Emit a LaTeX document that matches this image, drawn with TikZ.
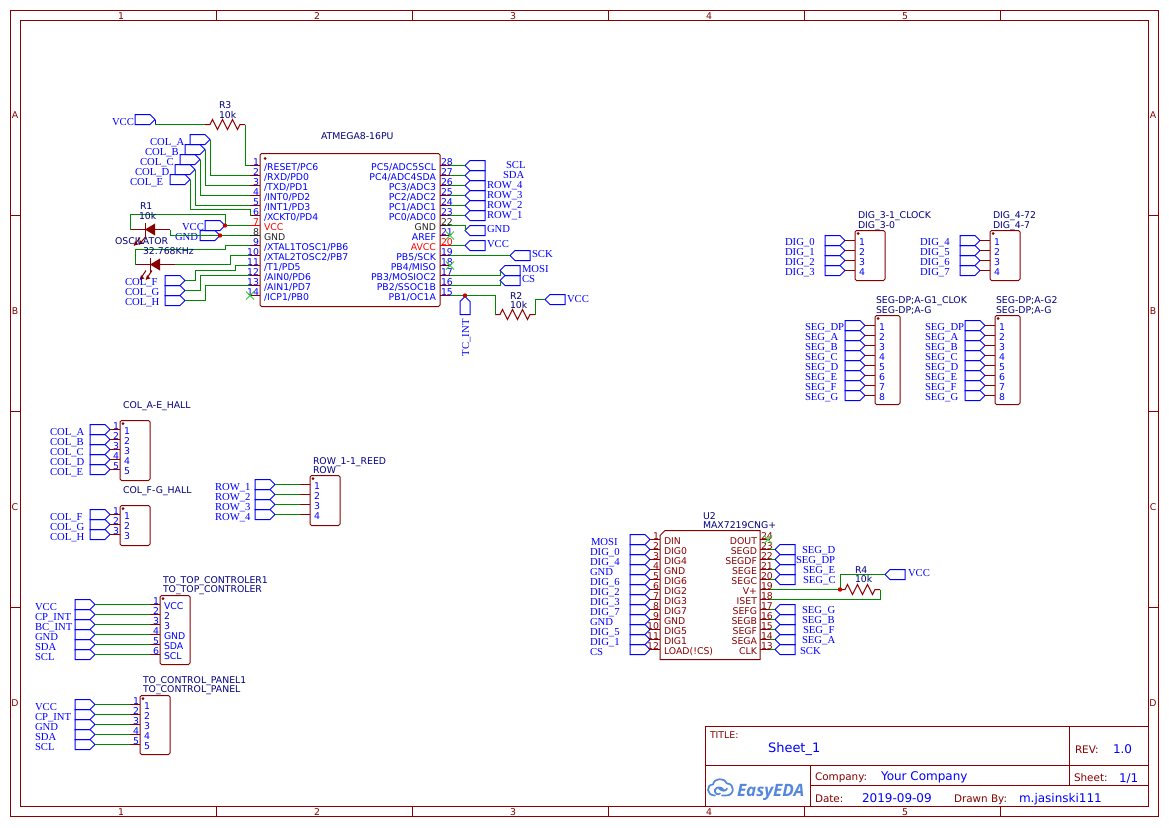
\documentclass[tikz,border=0pt]{standalone}
\usepackage{fontspec}
\setmainfont{DejaVu Sans}
\newfontfamily\labelfont{Liberation Serif}
\newfontfamily\logofont{Open Sans}
\definecolor{dred}{HTML}{880000}
\definecolor{nblue}{HTML}{0000FF}
\definecolor{tblue}{HTML}{000080}
\definecolor{wgreen}{HTML}{008800}
\definecolor{xgreen}{HTML}{33CC33}
\definecolor{jred}{HTML}{CC0000}
\definecolor{logoc}{HTML}{5588DD}
\definecolor{pinred}{HTML}{FF0000}
\definecolor{darkpin}{HTML}{222222}
\newcount\tcnt
\tikzset{
  wire/.style={draw=wgreen,line width=1pt},
  pinline/.style={line width=1pt},
  flagbox/.style={draw=nblue,line width=1pt,line join=miter},
  body/.style={draw=dred,line width=1pt,rounded corners=1.5pt},
  frameline/.style={draw=dred,line width=1pt},
  tx/.style={inner sep=0pt,outer sep=0pt},
  s9/.style={tx,font=\fontsize{9.33pt}{10pt}\selectfont},
  s10/.style={tx,font=\fontsize{10.4pt}{11pt}\selectfont},
  s12/.style={tx,font=\fontsize{12pt}{13pt}\selectfont},
  lb/.style={tx,text=nblue,font=\labelfont\fontsize{10.67pt}{11pt}\selectfont},
}
% text: style, anchor, x, y(baseline), text
\newcommand\wrt[5]{\global\advance\tcnt by 1 \node[#1,anchor=#2] (t\the\tcnt) at (#3,#4+0.8) {#5};}
% serif net label at x, visual centre y
\newcommand\netl[3]{\wrt{lb}{base west}{#1}{#2+3.2}{#3}}
% sans title
\newcommand\ttl[3]{\wrt{s9,text=tblue}{base west}{#1}{#2+3.4}{#3}}
\newcommand\flagR[3]{\coordinate (#1) at (#2,#3);
  \draw[flagbox,shift={(#2,#3)}] (-20,-5)--(-5,-5)--(0,0)--(-5,5)--(-20,5)--cycle;}
\newcommand\flagL[3]{\coordinate (#1) at (#2,#3);
  \draw[flagbox,shift={(#2,#3)}] (20,-5)--(5,-5)--(0,0)--(5,5)--(20,5)--cycle;}
% pins: name, body x, y, number, number colour, line colour
\newcommand\pinl[6]{\coordinate (#1) at (#2-10,#3);
  \draw[pinline,draw=#6] (#2-10,#3)--(#2,#3);
  \wrt{s9,text=#5}{base east}{#2-1}{#3-0.5}{#4}}
\newcommand\pinr[6]{\coordinate (#1) at (#2+10,#3);
  \draw[pinline,draw=#6] (#2,#3)--(#2+10,#3);
  \wrt{s9,text=#5}{base west}{#2+1}{#3-0.5}{#4}}
\newcommand\resz[3]{\coordinate (#1a) at (#2,#3);\coordinate (#1b) at (#2+40,#3);
  \draw[draw=dred,line width=1pt,shift={(#2,#3)}] (0,0)--(5,0)--(7.5,-5)--(12.5,5)--(17.5,-5)--(22.5,5)--(27.5,-5)--(32.5,5)--(35,0)--(40,0);}
\newcommand\crs[2]{\draw[draw=xgreen,line width=0.8pt,shift={(#1,#2)}] (-4,-4)--(4,4) (-4,4)--(4,-4);}
\newcommand\jdot[2]{\fill[jred] (#1,#2) circle (2.2);}
\newcommand\hbody[4]{\draw[body] (#1,#2) rectangle (#3,#4);\fill[dred] (#1+3,#2+3) circle (1.5);}
\newcommand\diodez[4]{% x1, tip x, x2, y
  \draw[draw=dred,line width=1pt] (#1,#4)--(#3,#4);
  \draw[draw=dred,line width=1pt] (#2,#4-7)--(#2,#4+7);
  \fill[dred] (#2,#4)--(#2+10,#4-6)--(#2+10,#4+6)--cycle;}
\newcommand\ledarrow[4]{\draw[draw=dred,line width=1pt] (#1,#2)--(#3,#4);
  \fill[dred] (#3,#4)--(#3+4.5,#4-1)--(#3+1,#4-4.5)--cycle;}
\begin{document}
\begin{tikzpicture}[x=1pt,y=-1pt]
\useasboundingbox (0,0) rectangle (1169,827);
\fill[white] (0,0) rectangle (1169,827);
\begin{scope}[yshift=0.5pt]
% ---------- frame
\draw[frameline] (10,11) rectangle (1158,817);
\draw[frameline] (20,21) rectangle (1148,807);
\foreach \x in {216,412,608,804,1000}{
  \draw[frameline] (\x,11)--(\x,21);
  \draw[frameline] (\x,807)--(\x,817);}
\foreach \y in {216,412,608}{
  \draw[frameline] (10,\y)--(20,\y);
  \draw[frameline] (1148,\y)--(1158,\y);}
\foreach \n/\x in {1/121,2/317,3/513,4/709,5/905}{
  \node[s9,text=dred,anchor=base] (ntop\n) at (\x,20.3) {\n};
  \node[s9,text=dred,anchor=base] (nbot\n) at (\x,816.3) {\n};}
\foreach \n/\y in {A/116,B/312,C/508,D/704}{
  \node[s9,text=dred,anchor=center] (nl\n) at (15,\y) {\n};
  \node[s9,text=dred,anchor=center] (nr\n) at (1153,\y) {\n};}
% ---------- title block
\draw[frameline] (705,727) rectangle (1148,807);
\draw[frameline] (705,766)--(1148,766);
\draw[frameline] (810,786)--(1148,786);
\draw[frameline] (810,766)--(810,807);
\draw[frameline] (1069,727)--(1069,786);
\wrt{s9,text=dred}{base west}{710}{738.5}{TITLE:}
\wrt{tx,text=nblue,font=\fontsize{13pt}{14pt}\selectfont}{base west}{768}{752}{Sheet\_1}
\wrt{s10,text=dred}{base west}{1075}{753}{REV:}
\wrt{s12,text=nblue}{base west}{1113}{753}{1.0}
\wrt{s10,text=dred}{base west}{815}{780}{Company:}
\wrt{s12,text=nblue}{base west}{881}{780}{Your Company}
\wrt{s10,text=dred}{base west}{1074}{781.5}{Sheet:}
\wrt{s12,text=nblue}{base west}{1119}{782}{1/1}
\wrt{s10,text=dred}{base west}{815}{802}{Date:}
\wrt{s12,text=nblue}{base west}{862}{802}{2019-09-09}
\wrt{s10,text=dred}{base west}{954}{802}{Drawn By:}
\wrt{s12,text=nblue}{base west}{1019}{802}{m.jasinski111}
% logo
\draw[draw=logoc,line width=1.7pt,line cap=round,line join=round]
  (715,796) .. controls (706,796) and (706,785) .. (713,785)
  .. controls (714,778) and (725,778) .. (727,784)
  .. controls (735,784) and (735,796) .. (726,796) -- (722,796)
  (724,791) .. controls (722,787) and (717,787) .. (715,790)
  .. controls (714,794) and (718,796) .. (720,794) (719,789) .. controls (722,792) and (726,792) .. (727,789);
\wrt{tx,text=logoc,font=\logofont\bfseries\itshape\fontsize{17pt}{18pt}\selectfont}{base west}{737}{795.7}{EasyEDA}
% ---------- ATMEGA
\ttl{321}{136}{ATMEGA8-16PU}
\draw[body] (260,154) rectangle (440,307);
\fill[dred] (265,159) circle (1.5);
\pinl{p1}{260}{166}{1}{nblue}{dred}
\pinl{p2}{260}{176}{2}{nblue}{dred}
\pinl{p3}{260}{186}{3}{nblue}{dred}
\pinl{p4}{260}{196}{4}{nblue}{dred}
\pinl{p5}{260}{206}{5}{nblue}{dred}
\pinl{p6}{260}{216}{6}{nblue}{dred}
\pinl{p7}{260}{226}{7}{pinred}{pinred}
\pinl{p8}{260}{236}{8}{darkpin}{darkpin}
\pinl{p9}{260}{246}{9}{nblue}{dred}
\pinl{p10}{260}{256}{10}{nblue}{dred}
\pinl{p11}{260}{266}{11}{nblue}{dred}
\pinl{p12}{260}{276}{12}{nblue}{dred}
\pinl{p13}{260}{286}{13}{nblue}{dred}
\pinl{p14}{260}{296}{14}{nblue}{dred}
\foreach \y/\t in {170/{/RESET/PC6},180/{/RXD/PD0},190/{/TXD/PD1},200/{/INT0/PD2},210/{/INT1/PD3},220/{/XCKT0/PD4},250/{/XTAL1TOSC1/PB6},260/{/XTAL2TOSC2/PB7},270/{/T1/PD5},280/{/AIN0/PD6},290/{/AIN1/PD7},300/{/ICP1/PB0}}{
  \wrt{s9,text=nblue}{base west}{264}{\y}{\t}}
\wrt{s9,text=pinred}{base west}{264}{230}{VCC}
\wrt{s9,text=darkpin}{base west}{264}{240}{GND}
\pinr{q28}{440}{166}{28}{nblue}{dred}
\pinr{q27}{440}{176}{27}{nblue}{dred}
\pinr{q26}{440}{186}{26}{nblue}{dred}
\pinr{q25}{440}{196}{25}{nblue}{dred}
\pinr{q24}{440}{206}{24}{nblue}{dred}
\pinr{q23}{440}{216}{23}{nblue}{dred}
\pinr{q22}{440}{226}{22}{darkpin}{darkpin}
\pinr{q21}{440}{236}{21}{nblue}{dred}
\pinr{q20}{440}{246}{20}{pinred}{pinred}
\pinr{q19}{440}{256}{19}{nblue}{dred}
\pinr{q18}{440}{266}{18}{nblue}{dred}
\pinr{q17}{440}{276}{17}{nblue}{dred}
\pinr{q16}{440}{286}{16}{nblue}{dred}
\pinr{q15}{440}{296}{15}{nblue}{dred}
\wrt{s9,text=nblue}{base east}{436}{170}{PC5/ADC5SCL}
\wrt{s9,text=nblue}{base east}{436}{180}{PC4/ADC4SDA}
\wrt{s9,text=nblue}{base east}{436}{190}{PC3/ADC3}
\wrt{s9,text=nblue}{base east}{436}{200}{PC2/ADC2}
\wrt{s9,text=nblue}{base east}{436}{210}{PC1/ADC1}
\wrt{s9,text=nblue}{base east}{436}{220}{PC0/ADC0}
\wrt{s9,text=darkpin}{base east}{436}{230}{GND}
\wrt{s9,text=nblue}{base east}{436}{240}{AREF}
\wrt{s9,text=pinred}{base east}{436}{250}{AVCC}
\wrt{s9,text=nblue}{base east}{436}{260}{PB5/SCK}
\wrt{s9,text=nblue}{base east}{436}{270}{PB4/MISO}
\wrt{s9,text=nblue}{base east}{436}{280}{PB3/MOSIOC2}
\wrt{s9,text=nblue}{base east}{436}{290}{PB2/SSOC1B}
\wrt{s9,text=nblue}{base east}{436}{300}{PB1/OC1A}
\crs{250}{296}\crs{450}{236}\crs{450}{266}
% top-left nets
\flagR{fvcc0}{155}{120}\netl{112}{122}{VCC}
\coordinate (vccw) at (155,125);
\draw[flagbox] (fvcc0)--(vccw);
\resz{r3}{205}{125}
\ttl{219}{105}{R3}\ttl{219}{115}{10k}
\draw[wire] (vccw)--(r3a);
\draw[wire] (r3b) |- (p1);
\flagR{fa}{210}{140}\netl{150}{142}{COL\_A}
\flagR{fb}{205}{150}\netl{145}{152}{COL\_B}
\flagR{fc}{200}{160}\netl{140}{162}{COL\_C}
\flagR{fd}{195}{170}\netl{135}{172}{COL\_D}
\flagR{fe}{190}{180}\netl{130}{182}{COL\_E}
\draw[wire] (fa) |- (p2);
\draw[wire] (fb) |- (p3);
\draw[wire] (fc) |- (p4);
\draw[wire] (fd) |- (p5);
\coordinate (j6) at (250,210);
\draw[wire] (fe) |- (j6) -- (p6);
% VCC, GND
\flagR{fvcc1}{225}{226}\netl{182}{227}{VCC}
\flagR{fgnd1}{220}{236}\netl{175}{237}{GND}
\draw[wire] (fvcc1)--(p7);
\draw[wire] (fgnd1)--(p8);
% diodes
\diodez{130}{145}{170}{230}
\ledarrow{146}{237}{139}{245}
\ledarrow{140}{238}{134}{246}
\diodez{135}{150}{175}{265}
\ledarrow{152}{271}{146}{280}
\ledarrow{146}{271}{140}{280}
\coordinate (d1a) at (130,230);\coordinate (d1b) at (170,230);
\coordinate (d2a) at (135,265);\coordinate (d2b) at (175,265);
\coordinate (jtop) at (130,215);
\draw[wire] (d1a)--(jtop)-|(fvcc1);
\draw[wire] (d1b)|-(p8);
\coordinate (j9) at (225,250);
\draw[wire] (d2a)|-(j9)|-(p9);
\coordinate (j10) at (230,265);
\draw[wire] (d2b)--(j10)|-(p10);
\jdot{225}{226}\jdot{220}{236}
\ttl{140}{206}{R1}\ttl{139}{216}{10k}
\ttl{115}{241}{OSCILATOR}\ttl{143}{251}{32.768KHz}
\flagR{ff}{185}{281}\netl{125}{282}{COL\_F}
\flagR{fg}{185}{291}\netl{125}{292}{COL\_G}
\flagR{fh}{185}{301}\netl{125}{302}{COL\_H}
\coordinate (j11a) at (235,271);\coordinate (j11b) at (195,281);
\draw[wire] (p11)-|(j11a)-|(j11b)--(ff);
\coordinate (j12) at (200,291);
\draw[wire] (p12)-|(j12)--(fg);
\coordinate (j13) at (205,301);
\draw[wire] (p13)-|(j13)--(fh);
% right nets
\flagL{g28}{465}{166}\netl{506}{165}{SCL}
\flagL{g27}{465}{176}\netl{503}{175}{SDA}
\flagL{g26}{465}{186}\netl{487}{185}{ROW\_4}
\flagL{g25}{465}{196}\netl{487}{195}{ROW\_3}
\flagL{g24}{465}{206}\netl{487}{205}{ROW\_2}
\flagL{g23}{465}{216}\netl{487}{215}{ROW\_1}
\foreach \a/\b in {q28/g28,q27/g27,q26/g26,q25/g25,q24/g24,q23/g23}{\draw[wire] (\a)--(\b);}
\flagL{g22}{465}{231}\netl{487}{229}{GND}
\coordinate (j22) at (465,226);
\draw[wire] (q22)--(j22)--(g22);
\flagL{g20}{465}{246}\netl{487}{244}{VCC}
\draw[wire] (q20)--(g20);
\flagL{g19}{510}{256}\netl{532}{254}{SCK}
\draw[wire] (q19)--(g19);
\flagL{g17}{500}{271}\netl{522}{269}{MOSI}
\flagL{g16}{500}{281}\netl{522}{279}{CS}
\draw[wire] (q17)-|(g17);
\draw[wire] (q16)-|(g16);
\resz{r2}{495}{315}
\ttl{510}{296}{R2}\ttl{510}{305}{10k}
\draw[wire] (q15)-|(r2a);
\flagL{g15}{545}{300}\netl{567}{299}{VCC}
\draw[wire] (r2b)|-(g15);
\coordinate (ftc) at (465,297);
\draw[flagbox] (465,297)--(470,302)--(470,315)--(460,315)--(460,302)--cycle;
\jdot{465}{296}
\wrt{lb,rotate=90}{base east}{469}{319}{TC\_INT}
% ---------- headers top right
\ttl{858}{215}{DIG\_3-1\_CLOCK}\ttl{858}{225}{DIG\_3-0}
\hbody{855}{231}{885}{281}
\ttl{993}{215}{DIG\_4-72}\ttl{993}{225}{DIG\_4-7}
\hbody{990}{231}{1020}{281}
\foreach \i/\y/\a/\b in {1/241/0/4,2/251/1/5,3/261/2/6,4/271/3/7}{
  \flagR{h3\i}{845}{\y}\netl{785}{\y+1}{DIG\_\a}
  \draw[draw=dred,line width=1pt] (h3\i)--(855,\y);
  \wrt{s9,text=nblue}{base west}{859}{\y+4.3}{\i}
  \flagR{h4\i}{980}{\y}\netl{920}{\y+1}{DIG\_\b}
  \draw[draw=dred,line width=1pt] (h4\i)--(990,\y);
  \wrt{s9,text=nblue}{base west}{994}{\y+4.3}{\i}}
\ttl{876}{300}{SEG-DP;A-G1\_CLOK}\ttl{876}{310}{SEG-DP;A-G}
\hbody{875}{316}{900}{405}
\ttl{996}{300}{SEG-DP;A-G2}\ttl{996}{310}{SEG-DP;A-G}
\hbody{995}{316}{1020}{405}
\foreach \i/\y/\t in {1/326/DP,2/336/A,3/346/B,4/356/C,5/366/D,6/376/E,7/386/F,8/396/G}{
  \flagR{s1\i}{865}{\y}\netl{805}{\y+1}{SEG\_\t}
  \draw[draw=dred,line width=1pt] (s1\i)--(875,\y);
  \wrt{s9,text=nblue}{base west}{879}{\y+4.3}{\i}
  \flagR{s2\i}{985}{\y}\netl{925}{\y+1}{SEG\_\t}
  \draw[draw=dred,line width=1pt] (s2\i)--(995,\y);
  \wrt{s9,text=nblue}{base west}{999}{\y+4.3}{\i}}
% ---------- COL headers
\ttl{123}{405}{COL\_A-E\_HALL}
\hbody{120}{421}{150}{481}
\foreach \i/\y/\t in {1/430/A,2/440/B,3/450/C,4/460/D,5/470/E}{
  \flagR{c\i}{110}{\y}\netl{50}{\y+2}{COL\_\t}
  \pinl{cp\i}{120}{\y}{\i}{nblue}{dred}
  \wrt{s9,text=nblue}{base west}{124}{\y+4.3}{\i}}
\ttl{123}{490}{COL\_F-G\_HALL}
\hbody{120}{506}{150}{546}
\foreach \i/\y/\t in {1/515/F,2/525/G,3/535/H}{
  \flagR{e\i}{110}{\y}\netl{50}{\y+2}{COL\_\t}
  \pinl{ep\i}{120}{\y}{\i}{nblue}{dred}
  \wrt{s9,text=nblue}{base west}{124}{\y+4.3}{\i}}
% ---------- ROW
\ttl{313}{461}{ROW\_1-1\_REED}\ttl{313}{470}{ROW}
\hbody{310}{476}{340}{526}
\foreach \i/\y in {1/485,2/495,3/505,4/515}{
  \flagR{r\i}{275}{\y}\netl{215}{\y+2}{ROW\_\i}
  \coordinate (rq\i) at (300,\y);
  \draw[wire] (r\i)--(rq\i);
  \draw[draw=dred,line width=1pt] (rq\i)--(310,\y);
  \wrt{s9,text=nblue}{base west}{314}{\y+4.3}{\i}}
% ---------- TO_TOP
\ttl{163}{580}{TO\_TOP\_CONTROLER1}\ttl{163}{589}{TO\_TOP\_CONTROLER}
\hbody{160}{596}{190}{665}
\foreach \i/\y/\t/\u in {1/605/VCC/VCC,2/615/CP\_INT/2,3/625/BC\_INT/3,4/635/GND/GND,5/645/SDA/SDA,6/655/SCL/SCL}{
  \flagR{tt\i}{95}{\y}\netl{35}{\y+2}{\t}
  \pinl{tp\i}{160}{\y}{\i}{nblue}{dred}
  \draw[wire] (tt\i)--(tp\i);
  \wrt{s9,text=nblue}{base west}{164}{\y+4.3}{\u}}
% ---------- TO_CONTROL
\ttl{143}{680}{TO\_CONTROL\_PANEL1}\ttl{143}{689}{TO\_CONTROL\_PANEL}
\hbody{140}{696}{170}{755}
\foreach \i/\y/\t in {1/705/VCC,2/715/CP\_INT,3/725/GND,4/735/SDA,5/745/SCL}{
  \flagR{tc\i}{95}{\y}\netl{35}{\y+2}{\t}
  \pinl{cq\i}{140}{\y}{\i}{nblue}{dred}
  \draw[wire] (tc\i)--(cq\i);
  \wrt{s9,text=nblue}{base west}{144}{\y+4.3}{\i}}
% ---------- U2
\ttl{703}{516}{U2}\ttl{703}{525}{MAX7219CNG+}
\draw[draw=dred,line width=1pt] (660,536)--(665,531)--(760,531)--(760,660)--(660,660)--cycle;
\foreach \i/\y/\n/\t/\lx in {1/540/MOSI/DIN/591,2/550/DIG\_0/DIG0/590,3/560/DIG\_4/DIG4/590,4/570/GND/GND/590,5/580/DIG\_6/DIG6/590,6/590/DIG\_2/DIG2/590,7/600/DIG\_3/DIG3/590,8/610/DIG\_7/DIG7/590,9/620/GND/GND/590,10/630/DIG\_5/DIG5/590,11/640/DIG\_1/DIG1/590,12/650/CS/LOAD(!CS)/590}{
  \flagR{u\i}{650}{\y}\netl{\lx}{\y+1.5}{\n}
  \pinl{up\i}{660}{\y}{\i}{dred}{dred}
  \wrt{s9,text=dred}{base west}{664}{\y+4.3}{\t}}
\foreach \i/\y/\t in {24/540/DOUT,23/550/SEGD,22/560/SEGDF,21/570/SEGE,20/580/SEGC,19/590/V+,18/600/ISET,17/610/SEFG,16/620/SEGB,15/630/SEGF,14/640/SEGA,13/650/CLK}{
  \pinr{uq\i}{760}{\y}{\i}{dred}{dred}
  \wrt{s9,text=dred}{base east}{757}{\y+4.3}{\t}}
\crs{768}{540}
\flagL{v23}{775}{550}\netl{802}{550}{SEG\_D}
\flagL{v22}{775}{560}\netl{796}{560}{SEG\_DP}
\flagL{v21}{775}{570}\netl{803}{570}{SEG\_E}
\flagL{v20}{775}{580}\netl{803}{580}{SEG\_C}
\flagL{v17}{775}{610}\netl{802}{610}{SEG\_G}
\flagL{v16}{775}{620}\netl{802}{620}{SEG\_B}
\flagL{v15}{775}{630}\netl{803}{630}{SEG\_F}
\flagL{v14}{775}{640}\netl{802}{640}{SEG\_A}
\flagL{v13}{775}{650}\netl{800}{651}{SCK}
\foreach \n in {23,22,21,20,17,16,15,14,13}{\draw[wire] (uq\n)--(v\n);}
\resz{r4}{840}{590}
\ttl{855}{570}{R4}\ttl{855}{579}{10k}
\draw[wire] (uq19)--(r4a);
\flagL{vvcc}{885}{575}\netl{908}{573}{VCC}
\draw[wire] (r4a)|-(vvcc);
\coordinate (j18) at (880,600);
\draw[wire] (r4b)--(j18)--(uq18);
\jdot{840}{590}
\end{scope}
\end{tikzpicture}
\end{document}
